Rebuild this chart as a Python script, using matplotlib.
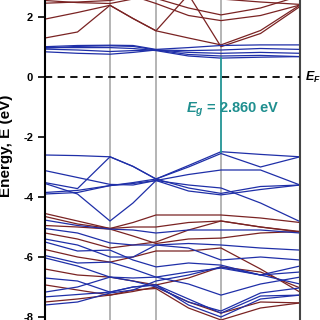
import matplotlib
matplotlib.use('Agg')
import matplotlib.pyplot as plt

plt.rcParams['font.family'] = ['Liberation Sans', 'DejaVu Sans']
plt.rcParams['mathtext.fontset'] = 'custom'
plt.rcParams['mathtext.it'] = 'Liberation Sans:italic:bold'
plt.rcParams['mathtext.rm'] = 'Liberation Sans:bold'

# k-path (sample points along the path) and high-symmetry points
k = [0, 32.5, 65, 88, 111, 143.5, 176, 215.5, 255]
k_sym = [65, 111, 176]

# conduction bands (brown)
cond_brown = [
    [1.30, 1.50, 2.39, 1.95, 1.54, 1.30, 1.07, 1.55, 2.40],
    [1.93, 2.15, 2.39, 1.95, 1.54, 2.75, 3.00, 3.00, 3.00],
    [3.00, 3.00, 3.00, 3.00, 3.00, 2.75, 1.01, 1.45, 2.35],
    [2.46, 2.50, 2.55, 2.70, 2.45, 2.05, 1.88, 2.05, 2.40],
    [2.70, 2.65, 2.60, 2.65, 2.62, 2.30, 2.07, 2.30, 2.70],
    [2.55, 2.48, 2.45, 2.60, 2.80, 2.80, 2.60, 2.50, 2.42],
]
# conduction bands (blue)
cond_blue = [
    [1.01, 1.05, 1.06, 1.05, 0.92, 0.98, 1.05, 1.07, 1.07],
    [0.96, 1.02, 1.04, 1.02, 0.90, 0.88, 0.90, 0.95, 0.92],
    [0.93, 0.90, 0.85, 0.88, 0.90, 0.82, 0.79, 0.82, 0.79],
    [0.84, 0.79, 0.76, 0.82, 0.90, 0.75, 0.70, 0.72, 0.68],
    [0.98, 0.98, 0.98, 0.95, 0.88, 0.70, 0.63, 0.66, 0.68],
]
# upper valence bands (blue)
val_blue = [
    [-2.60, -2.62, -2.66, -2.98, -3.40, -2.95, -2.49, -2.58, -2.66],
    [-3.52, -3.72, -2.66, -2.98, -3.40, -3.00, -2.55, -3.00, -2.66],
    [-3.12, -3.35, -3.58, -3.60, -3.45, -3.25, -3.10, -3.10, -3.60],
    [-3.85, -3.78, -3.62, -3.52, -3.40, -3.70, -3.88, -3.65, -3.60],
    [-3.90, -3.85, -3.62, -3.55, -3.45, -3.80, -3.93, -3.75, -3.60],
    [-3.55, -3.90, -4.80, -4.20, -3.45, -3.60, -3.70, -4.20, -4.82],
]
# deep valence bands, brown ones
deep_brown = [
    [-4.55, -4.80, -5.05, -4.85, -4.60, -4.60, -4.60, -4.70, -4.85],
    [-4.65, -4.90, -5.05, -5.00, -5.00, -4.85, -4.80, -5.00, -5.15],
    [-4.95, -5.00, -5.07, -5.30, -5.55, -5.40, -5.37, -5.20, -5.15],
    [-5.20, -5.40, -5.70, -5.60, -5.50, -5.10, -4.80, -5.00, -5.17],
    [-5.75, -6.00, -6.17, -6.00, -5.80, -5.80, -5.70, -6.40, -7.17],
    [-6.40, -6.60, -6.67, -6.80, -6.93, -6.70, -6.33, -6.50, -7.03],
    [-6.93, -7.10, -7.27, -7.15, -7.00, -7.50, -7.87, -7.50, -7.53],
    [-7.50, -7.40, -7.27, -7.10, -7.05, -7.70, -8.10, -7.70, -7.53],
]
# deep valence bands, blue ones
deep_blue = [
    [-4.77, -4.95, -5.07, -5.10, -5.20, -5.10, -5.10, -5.10, -5.20],
    [-5.05, -5.20, -5.53, -5.60, -5.60, -5.55, -5.60, -5.70, -5.77],
    [-5.40, -5.60, -6.00, -6.00, -5.60, -5.70, -6.10, -6.00, -6.10],
    [-5.50, -5.80, -5.77, -6.10, -6.33, -6.20, -6.27, -6.60, -6.30],
    [-5.95, -6.20, -6.17, -6.40, -6.67, -6.50, -6.37, -6.60, -6.50],
    [-6.03, -6.30, -6.67, -6.70, -6.67, -6.90, -7.27, -6.90, -6.67],
    [-6.70, -6.80, -7.17, -7.00, -6.93, -7.40, -7.87, -7.30, -7.27],
    [-7.17, -7.00, -6.67, -6.80, -7.00, -7.50, -7.80, -7.20, -7.03],
    [-7.33, -7.25, -7.17, -7.00, -6.93, -7.60, -8.00, -7.40, -7.27],
    [-7.60, -7.50, -7.20, -7.10, -6.80, -6.60, -6.33, -6.60, -6.90],
]

cbm, vbm = 0.63, -2.49
yticks = [-8, -6, -4, -2, 0, 2]
ytick_labels = ['-8', '-6', '-4', '-2', '0', '2']

brown = '#7a2323'
blue = '#1f2fa8'

fig = plt.figure(figsize=(3.2, 3.2), dpi=100)
ax = fig.add_axes([45/320, -12/320, 255/320, 345/320])

for xs in k_sym:
    ax.axvline(xs, color='#a8a8a8', lw=1.2, zorder=1)

for b in cond_brown + deep_brown:
    ax.plot(k, b, color=brown, lw=0.9, zorder=2)
for b in cond_blue + val_blue + deep_blue:
    ax.plot(k, b, color=blue, lw=0.9, zorder=2)

ax.axhline(0, color='black', lw=1.3, ls=(0, (4, 3)), zorder=3)

# band gap marker
ax.plot([k_sym[2], k_sym[2]], [vbm, cbm], color='#1f9a9a', lw=1.2, zorder=4)
ax.text(k_sym[2] + 12, -1.1, r'$E_g$ = 2.860 eV', color='#1f8f8f',
        fontsize=10.5, fontweight='bold', ha='center', va='center', zorder=5)

ax.text(1.02, 0, r'$E_F$', transform=ax.get_yaxis_transform(), color='black',
        fontsize=9, ha='left', va='center')

ax.set_xlim(k[0], k[-1])
ax.set_ylim(-8.5, 3.0)
ax.set_xticks([])
ax.set_yticks(yticks)
ax.set_yticklabels(ytick_labels, fontsize=8, fontweight='bold')
ax.tick_params(axis='y', direction='out', length=5, width=1.2)
ax.set_ylabel('Energy, E (eV)', fontsize=11, fontweight='bold')
ax.yaxis.set_label_coords(-0.125, 0.54)

for side in ['left', 'top', 'bottom']:
    ax.spines[side].set_linewidth(1.5)
ax.spines['right'].set_color('#444444')
ax.spines['right'].set_linewidth(1.5)

fig.savefig('out.png', dpi=100)
